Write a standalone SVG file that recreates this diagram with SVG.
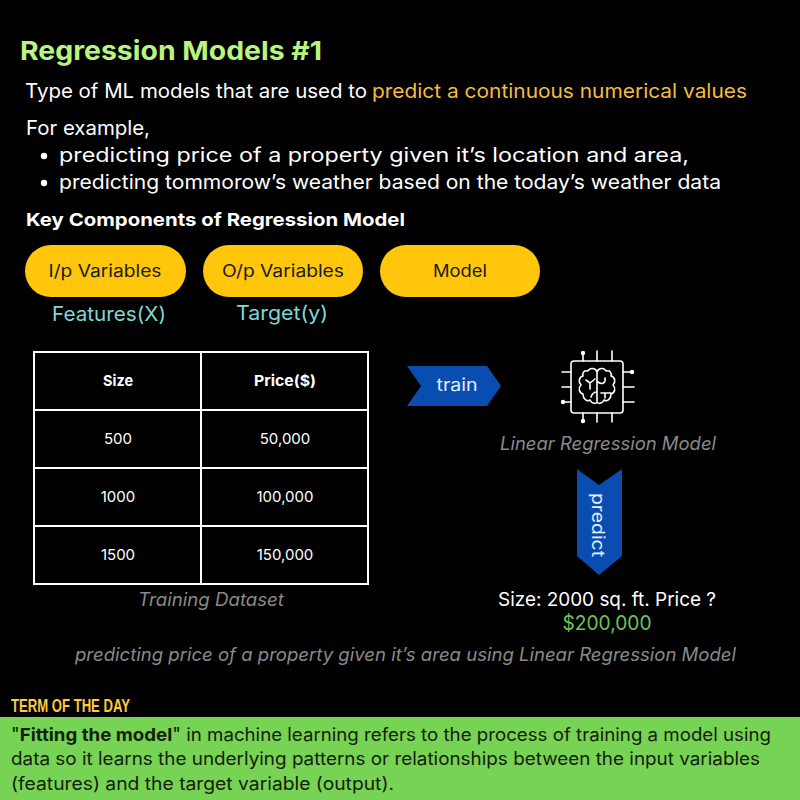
<svg xmlns="http://www.w3.org/2000/svg" width="800" height="800" viewBox="0 0 800 800">
<style>
text{font-family:"Inter","Open Sans","Liberation Sans",sans-serif;fill:#fff}
.b{font-size:20px}
.pill{fill:#ffc60b}
.pl{font-size:17px;fill:#1a1a1a;text-anchor:middle}
.cy{font-size:20px;fill:#7fd6d6}
.cell{font-size:15px;text-anchor:middle}
.hd{font-size:15px;font-weight:700;text-anchor:middle}
.cap{font-size:18px;font-style:italic;fill:#8a8a8a}
.grid{fill:none;stroke:#fff;stroke-width:2}
.ic{fill:none;stroke:#fff;stroke-width:1.6;stroke-linecap:round;stroke-linejoin:round}
.dot{fill:#fff}
.term{font-size:18px;fill:#14200f}
</style>
<rect width="800" height="800" fill="#000"/>
<g id="header">
<text x="20" y="60" font-size="26" font-weight="700" style="fill:#b9f47e" textLength="302" lengthAdjust="spacingAndGlyphs">Regression Models #1</text>
<text x="25" y="98" class="b" textLength="342" lengthAdjust="spacingAndGlyphs">Type of ML models that are used to</text>
<text x="372" y="98" class="b" textLength="375" lengthAdjust="spacingAndGlyphs" style="fill:#f5bd3c">predict a continuous numerical values</text>
<text x="26" y="135" class="b" textLength="124" lengthAdjust="spacingAndGlyphs">For example,</text>
<circle cx="44" cy="156" r="3.2" class="dot"/>
<text x="59" y="162" class="b" textLength="630" lengthAdjust="spacingAndGlyphs">predicting price of a property given it’s location and area,</text>
<circle cx="44" cy="183" r="3.2" class="dot"/>
<text x="59" y="189" class="b" textLength="662" lengthAdjust="spacingAndGlyphs">predicting tommorow’s weather based on the today’s weather data</text>
<text x="26" y="226" font-size="18" font-weight="700" textLength="379" lengthAdjust="spacingAndGlyphs">Key Components of Regression Model</text>
</g>
<g id="node-input">
<rect x="25" y="245" width="161" height="52" rx="26" class="pill"/>
<text x="105" y="277" class="pl" textLength="113" lengthAdjust="spacingAndGlyphs">I/p Variables</text>
<text x="52" y="321" class="cy" textLength="114" lengthAdjust="spacingAndGlyphs">Features(X)</text>
</g>
<g id="node-output">
<rect x="203" y="245" width="160" height="52" rx="26" class="pill"/>
<text x="283" y="277" class="pl" textLength="122" lengthAdjust="spacingAndGlyphs">O/p Variables</text>
<text x="236" y="320" class="cy" textLength="92" lengthAdjust="spacingAndGlyphs">Target(y)</text>
</g>
<g id="node-model">
<rect x="380" y="245" width="160" height="52" rx="26" class="pill"/>
<text x="460" y="277" class="pl" textLength="54" lengthAdjust="spacingAndGlyphs">Model</text>
</g>
<g id="table">
<rect x="34" y="352" width="334" height="232" class="grid"/>
<path d="M201 352V584M34 410H368M34 468H368M34 526H368" class="grid"/>
<text x="118" y="386" class="hd" textLength="30" lengthAdjust="spacingAndGlyphs">Size</text>
<text x="285" y="386" class="hd" textLength="62" lengthAdjust="spacingAndGlyphs">Price($)</text>
<text x="118" y="444" class="cell">500</text>
<text x="285" y="444" class="cell">50,000</text>
<text x="118" y="502" class="cell">1000</text>
<text x="285" y="502" class="cell">100,000</text>
<text x="118" y="560" class="cell">1500</text>
<text x="285" y="560" class="cell">150,000</text>
<text x="138" y="606" class="cap" textLength="146" lengthAdjust="spacingAndGlyphs">Training Dataset</text>
</g>
<g id="connectors">
<g id="train-arrow">
<path d="M407 366H487L501 386L487 406H407L421 386Z" fill="#0a4db0"/>
<text x="457" y="391" font-size="17" text-anchor="middle" textLength="41" lengthAdjust="spacingAndGlyphs" style="fill:#e6eefc">train</text>
</g>
<g id="predict-arrow">
<path d="M577 469L599 485L622 469V556L599 575L577 556Z" fill="#0a4db0"/>
<text transform="translate(592,493) rotate(90)" font-size="17" textLength="64" lengthAdjust="spacingAndGlyphs" style="fill:#e6eefc">predict</text>
</g>
</g>
<g id="node-model-icon">
<rect x="571" y="361" width="52" height="52" rx="3" class="ic"/>
<path d="M583 361V353M597 361V351M612 361V351M583 413V422M597 413V422M612 413V422M571 372H562M571 387H562M571 402H564M623 372H632M623 387H634M623 402H634" class="ic"/>
<circle cx="583" cy="353" r="2.2" class="dot"/><circle cx="583" cy="421" r="2.2" class="dot"/><circle cx="563" cy="402" r="2.2" class="dot"/><circle cx="632" cy="372" r="2.2" class="dot"/>
<path d="M597 372C596 368 590 367 588 371C584 370 582 373 583 376C579 377 578 382 581 385C578 388 579 393 583 394C583 399 587 402 590 400C592 404 596 404 597 402ZM597 372C598 368 604 367 606 371C610 370 612 373 611 376C615 377 616 382 613 385C616 388 615 393 611 394C611 399 607 402 604 400C602 404 598 404 597 402ZM586 380L590 383M595 379L590 383V389M597 392C594 392 592 394 591 397M598 382C602 385 606 383 605 378M601 393H611M605 393V398" class="ic"/>
<text x="500" y="450" class="cap" textLength="216" lengthAdjust="spacingAndGlyphs">Linear Regression Model</text>
</g>
<g id="prediction">
<text x="607" y="606" font-size="19" text-anchor="middle" textLength="218" lengthAdjust="spacingAndGlyphs">Size: 2000 sq. ft. Price ?</text>
<text x="607" y="630" font-size="20" text-anchor="middle" textLength="89" lengthAdjust="spacingAndGlyphs" style="fill:#6fc25a">$200,000</text>
</g>
<text x="75" y="661" class="cap" textLength="661" lengthAdjust="spacingAndGlyphs">predicting price of a property given it’s area using Linear Regression Model</text>
<g id="term">
<text x="11" y="712" font-size="18" font-weight="700" textLength="119" lengthAdjust="spacingAndGlyphs" style="fill:#ffc93c;font-family:'Liberation Sans',sans-serif">TERM OF THE DAY</text>
<rect x="0" y="717" width="800" height="83" fill="#77d353"/>
<text x="11" y="741" class="term" textLength="760" lengthAdjust="spacingAndGlyphs">"<tspan font-weight="700">Fitting the model</tspan>" in machine learning refers to the process of training a model using</text>
<text x="11" y="765" class="term" textLength="749" lengthAdjust="spacingAndGlyphs">data so it learns the underlying patterns or relationships between the input variables</text>
<text x="11" y="790" class="term" textLength="383" lengthAdjust="spacingAndGlyphs">(features) and the target variable (output).</text>
</g>
</svg>
